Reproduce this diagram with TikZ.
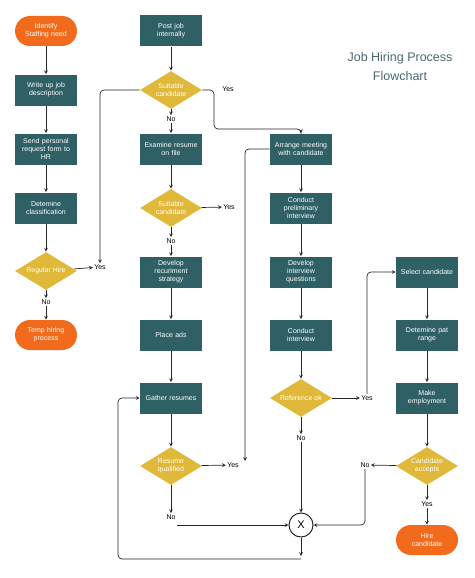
\documentclass[tikz,border=0pt]{standalone}
\usepackage{fontspec}
\setmainfont{Liberation Sans}
\usetikzlibrary{shapes.geometric}
\definecolor{boxteal}{RGB}{47,96,102}
\definecolor{decyellow}{RGB}{224,184,58}
\definecolor{termorange}{RGB}{242,106,27}
\definecolor{titlegray}{RGB}{74,106,110}
\begin{document}
\begin{tikzpicture}[x=1pt, y=-1pt, >=stealth, line width=0.7pt,
  every node/.style={font=\fontsize{7}{8}\selectfont, align=center},
  procbox/.style={rectangle, fill=boxteal, text=white, minimum width=62pt, minimum height=31pt, text width=60pt, inner sep=1pt},
  decbox/.style={diamond, fill=decyellow, text=white, minimum width=62pt, minimum height=38pt, aspect=1.6, inner sep=0pt},
  termbox/.style={rectangle, rounded corners=15pt, fill=termorange, text=white, minimum width=62pt, minimum height=30pt, text width=60pt, inner sep=1pt},
  lbl/.style={text=black, inner sep=1pt},
  conn/.style={draw=black!85, rounded corners=4pt}]
  % 0. 画布与标题
  \useasboundingbox (0,0) rectangle (474,578);
  \node[font=\fontsize{12.5}{19}\selectfont, text=titlegray] (title) at (400,67) {Job Hiring Process\\Flowchart};

  % 1. 第一列
  \node[termbox] (identify) at (46,31) {Identify\\Staffing need};
  \node[procbox] (writeup) at (46,90) {Write up job\\description};
  \node[procbox] (sendreq) at (46,149) {Send personal\\request form to\\HR};
  \node[procbox] (classify) at (46,208) {Detemine\\classification};
  \node[decbox] (regular) at (46,271) {Regular Hire};
  \node[lbl] (regno) at (46,302) {No};
  \node[lbl] (regyes) at (100,267) {Yes};
  \node[termbox] (temphire) at (46,335) {Temp hiring\\process};

  % 2. 第二列
  \node[procbox] (postjob) at (171,31) {Post job\\internally};
  \node[decbox] (suitA) at (171,90) {Suitable\\candidate};
  \node[lbl] (suitAyes) at (228,89) {Yes};
  \node[lbl] (suitAno) at (171,119) {No};
  \node[procbox] (examine) at (171,149) {Examine resume\\on file};
  \node[decbox] (suitB) at (171,208) {Suitable\\candidate};
  \node[lbl] (suitByes) at (229,207) {Yes};
  \node[lbl] (suitBno) at (171,241) {No};
  \node[procbox] (recruit) at (171,272) {Develop\\recuriment\\strategy};
  \node[procbox] (placeads) at (171,335) {Place ads};
  \node[procbox] (gather) at (171,398) {Gather resumes};
  \node[decbox] (resqual) at (171,466) {Resume\\qualified};
  \node[lbl] (resyes) at (233,465) {Yes};
  \node[lbl] (resno) at (171,517) {No};

  % 3. 第三列
  \node[procbox] (arrange) at (301,149) {Arrange meeting\\with candidate};
  \node[procbox] (prelim) at (301,208) {Conduct\\preliminary\\interview};
  \node[procbox] (questions) at (301,272) {Develop\\interview\\questions};
  \node[procbox] (interview) at (301,335) {Conduct\\interview};
  \node[decbox] (refok) at (301,398) {Reference ok};
  \node[lbl] (refyes) at (367,398) {Yes};
  \node[lbl] (refno) at (301,438) {No};
  \node[circle, draw=black!85, line width=1pt, minimum size=24pt, inner sep=0pt, font=\fontsize{11}{11}\selectfont] (merge) at (301,525) {X};
  \coordinate (mergeout) at (301,559);

  % 4. 第四列
  \node[procbox] (select) at (427,272) {Select candidate};
  \node[procbox] (payrange) at (427,335) {Detemine pat\\range};
  \node[procbox] (employ) at (427,398) {Make\\employment};
  \node[decbox] (accepts) at (427,466) {Candidate\\accepts};
  \node[lbl] (accno) at (365,465) {No};
  \node[lbl] (accyes) at (427,504) {Yes};
  \node[termbox] (hire) at (427,540) {Hire\\candidate};

  % 5. 连线
  \draw[conn, ->] (identify) -- (writeup);
  \draw[conn, ->] (writeup) -- (sendreq);
  \draw[conn, ->] (sendreq) -- (classify);
  \draw[conn, ->] (classify) -- (regular);
  \draw[conn, ->] (regular) -- (regno);
  \draw[conn, ->] (regno) -- (temphire);
  \draw[conn, ->] (regular) -- (regyes);

  \draw[conn, ->] (postjob) -- (suitA);
  \draw[conn, ->] (suitA) -- (suitAno);
  \draw[conn, ->] (suitAno) -- (examine);
  \draw[conn, ->] (suitA.west) -| (regyes.north);
  \draw[conn, ->] (suitA.east) -- (214,90) -- (214,129) -| (arrange.north);
  \draw[conn, ->] (examine) -- (suitB);
  \draw[conn, ->] (suitB) -- (suitByes);
  \draw[conn, ->] (suitB) -- (suitBno);
  \draw[conn, ->] (suitBno) -- (recruit);
  \draw[conn, ->] (recruit) -- (placeads);
  \draw[conn, ->] (placeads) -- (gather);
  \draw[conn, ->] (gather) -- (resqual);
  \draw[conn, ->] (resqual) -- (resyes);
  \draw[conn, ->] (resqual) -- (resno);
  \draw[conn, ->] (resno.east |- merge) -- (merge);

  \draw[conn, ->] (arrange.west) -| (245,461);
  \draw[conn, ->] (arrange) -- (prelim);
  \draw[conn, ->] (prelim) -- (questions);
  \draw[conn, ->] (questions) -- (interview);
  \draw[conn, ->] (interview) -- (refok);
  \draw[conn, ->] (refok) -- (refyes);
  \draw[conn, ->] (refok) -- (refno);
  \draw[conn, ->] (refno) -- (merge);
  \draw[conn, ->] (refyes.north) |- (select.west);
  \draw[conn, ->] (merge) -- (301,556);
  \draw[conn, ->] (mergeout) -| (118,398) -- (gather.west);

  \draw[conn, ->] (select) -- (payrange);
  \draw[conn, ->] (payrange) -- (employ);
  \draw[conn, ->] (employ) -- (accepts);
  \draw[conn, ->] (accepts) -- (accno);
  \draw[conn, ->] (accepts) -- (accyes);
  \draw[conn, ->] (accyes) -- (hire);
  \draw[conn, ->] (accno.south) |- (merge.east);
\end{tikzpicture}
\end{document}
